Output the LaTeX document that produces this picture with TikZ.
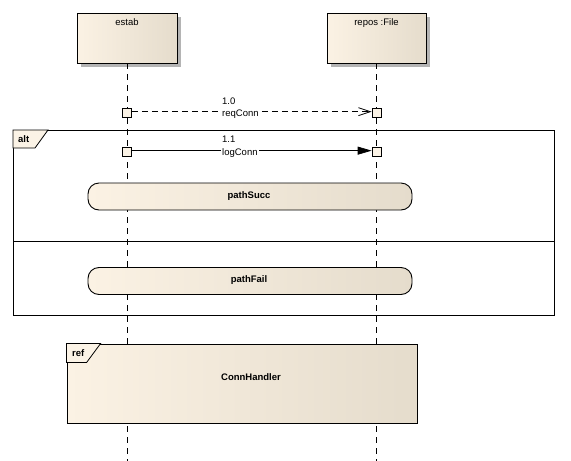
\documentclass[tikz,border=0pt]{standalone}
\usepackage{fontspec}
\setmainfont{Liberation Sans}
\usetikzlibrary{arrows.meta}
\definecolor{bgL}{HTML}{FBF2E4}
\definecolor{bgR}{HTML}{E5DCCC}
\definecolor{tabfill}{HTML}{FBF3E6}
\definecolor{shadowc}{HTML}{B4B4B4}
\begin{document}
\begin{tikzpicture}[x=1pt,y=-1pt,
  txt/.style={font=\fontsize{9.5}{11}\selectfont, inner sep=0pt},
  btxt/.style={font=\fontsize{9.5}{11}\selectfont\bfseries, inner sep=0pt},
  headbox/.style={draw=black, line width=0.9pt, left color=bgL, right color=bgR, shading angle=90, minimum width=100pt, minimum height=50pt, inner sep=0pt},
  lifeline/.style={draw=black, line width=0.8pt, dash pattern=on 6pt off 5pt},
  actbox/.style={draw=black, line width=0.7pt, fill=tabfill, minimum size=9pt, inner sep=0pt},
  fragbox/.style={draw=black, line width=0.9pt, rounded corners=11pt, left color=bgL, right color=bgR, minimum width=324pt, minimum height=27pt, inner sep=0pt},
  frameline/.style={draw=black, line width=0.8pt},
  tabshape/.style={draw=black, line width=0.8pt, fill=tabfill}
]
\useasboundingbox (0,0) rectangle (571,461);
% lifeline heads with shadows
\fill[shadowc] (81,17) rectangle (181,67);
\fill[shadowc] (331,17) rectangle (430,67);
\node[headbox] (estab) at (127,38) {};
\node[headbox, minimum width=99pt] (repos) at (376.5,38) {};
\node[txt, anchor=north] (estabLbl) at ([yshift=-6pt]estab.north) {estab};
\node[txt, anchor=north] (reposLbl) at ([yshift=-6pt]repos.north) {repos :File};
% lifeline ends
\coordinate (estabEnd) at (127,461);
\coordinate (reposEnd) at (376.5,461);
\draw[lifeline] (estab.south) -- (estabEnd);
\draw[lifeline] (repos.south) -- (reposEnd);
% activation squares
\node[actbox] (a1) at (127,112.5) {};
\node[actbox] (b1) at (376.5,112.5) {};
\node[actbox] (a2) at (127,151.5) {};
\node[actbox] (b2) at (376.5,151.5) {};
% messages
\draw[line width=0.7pt, dash pattern=on 6pt off 4pt, -{Straight Barb[length=12pt,width=8pt,line width=0.8pt]}]
  ([yshift=-4pt]a1.north east) -- ([yshift=-4pt]b1.north west);
\node[txt, anchor=west] (m1n) at (222,101) {1.0};
\node[txt, anchor=west, fill=white, inner xsep=1pt] (m1l) at (221,114) {reqConn};
\draw[line width=0.7pt, -{Triangle[length=14pt,width=8pt]}]
  ([yshift=-4pt]a2.north east) -- ([yshift=-4pt]b2.north west);
\node[txt, anchor=west] (m2n) at (222,139) {1.1};
\node[txt, anchor=west, fill=white, inner xsep=1pt] (m2l) at (221,153) {logConn};
% alt frame
\draw[frameline] (13,130) rectangle (554,315);
\coordinate (divL) at (13,241.5);
\coordinate (divR) at (554,241.5);
\draw[frameline] (divL) -- (divR);
\draw[tabshape] (13,130) -- (48,130) -- (35,148) -- (13,148) -- cycle;
\node[btxt, anchor=west] (altLbl) at (18,139.5) {alt};
% interaction uses
\node[fragbox] (succ) at (250,196.5) {};
\node[btxt] (succLbl) at (249,196) {pathSucc};
\node[fragbox] (fail) at (250,281) {};
\node[btxt] (failLbl) at (249,280.5) {pathFail};
% ref frame
\node[draw=black, line width=0.9pt, left color=bgL, right color=bgR, minimum width=350pt, minimum height=79pt, inner sep=0pt] (ref) at (242,383.5) {};
\draw[tabshape] (ref.north west) -- ++(34,0) -- ++(-14,19) -- ++(-20,0) -- cycle;
\node[btxt, anchor=west] (refLbl) at (72,353.5) {ref};
\node[btxt] (refName) at (251,377) {ConnHandler};
\end{tikzpicture}
\end{document}
